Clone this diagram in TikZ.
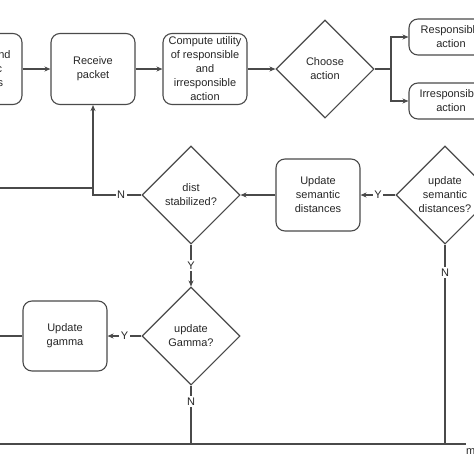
\documentclass[tikz,border=0pt]{standalone}
\usepackage{fontspec}
\setmainfont{Liberation Sans}
\usetikzlibrary{shapes.geometric,arrows.meta}
\definecolor{ln}{HTML}{4A4A4A}
\definecolor{tx}{HTML}{262626}
\begin{document}
\begin{tikzpicture}[x=1pt,y=-1pt,
  every node/.style={font=\fontsize{11pt}{14pt}\selectfont, text=tx},
  box/.style={draw=ln, line width=1.1pt, rounded corners=9pt, align=center, minimum width=84pt, minimum height=71pt, inner sep=2pt},
  smallbox/.style={box, minimum height=36pt},
  dia/.style={draw=ln, line width=1.1pt, shape=diamond, align=center, minimum width=98pt, minimum height=98pt, inner sep=0pt},
  conn/.style={draw=ln, line width=1.1pt},
  arr/.style={conn, -{Stealth[length=6pt,width=5pt]}},
  lbl/.style={fill=white, inner sep=1.5pt}
]
\useasboundingbox (0,0) rectangle (474,474);
\clip (0,0) rectangle (474,474);
% top row
\node[box] (init) at (-20,69) {Initialize and\\semantic\\distances};
\node[box] (recv) at (93,69) {Receive\\packet};
\node[box] (comp) at (205,69) {Compute utility\\of responsible\\and\\irresponsible\\action};
\node[dia] (choose) at (325,69) {Choose\\action};
\node[smallbox] (resp) at (451,37) {Responsible\\action};
\node[smallbox] (irr) at (451,101) {Irresponsible\\action};
\coordinate (jn) at (391,69);
% middle row
\node[dia] (dist) at (191,195) {dist\\stabilized?};
\node[box, minimum height=72pt] (usd) at (318,195) {Update\\semantic\\distances};
\node[dia] (usdq) at (445,195) {update\\semantic\\distances?};
% lower row
\node[dia] (gq) at (191,336) {update\\Gamma?};
\node[box, minimum height=70pt] (ug) at (65,336) {Update\\gamma};
% free ends
\coordinate (lin) at (-5,188);
\coordinate (lug) at (-5,336);
\coordinate (bl) at (-5,444);
\coordinate (br) at (466,444);
\coordinate (gqb) at (191,444);
\coordinate (usdqb) at (445,444);
\node[anchor=north west, inner sep=0pt] (mtext) at (466,448) {m};
% connectors
\draw[arr] (init.east) -- (recv.west);
\draw[arr] (recv.east) -- (comp.west);
\draw[arr] (comp.east) -- (choose.west);
\draw[conn] (choose.east) -- (jn);
\draw[arr] (jn) |- (resp.west);
\draw[arr] (jn) |- (irr.west);
\draw[arr] (usdq.west) -- node[lbl]{Y} (usd.east);
\draw[arr] (usd.west) -- (dist.east);
\draw[arr] (dist.west) -- node[lbl, pos=0.42]{N} (recv.south |- dist.west) -- (recv.south);
\draw[conn] (lin) -- (recv.south |- lin);
\draw[arr] (dist.south) -- node[lbl]{Y} (gq.north);
\draw[arr] (gq.west) -- node[lbl]{Y} (ug.east);
\draw[conn] (ug.west) -- (lug);
\draw[conn] (gq.south) -- node[lbl, pos=0.27]{N} (gqb);
\draw[conn] (usdq.south) -- node[lbl, pos=0.14]{N} (usdqb);
\draw[conn] (bl) -- (br);
\end{tikzpicture}
\end{document}
